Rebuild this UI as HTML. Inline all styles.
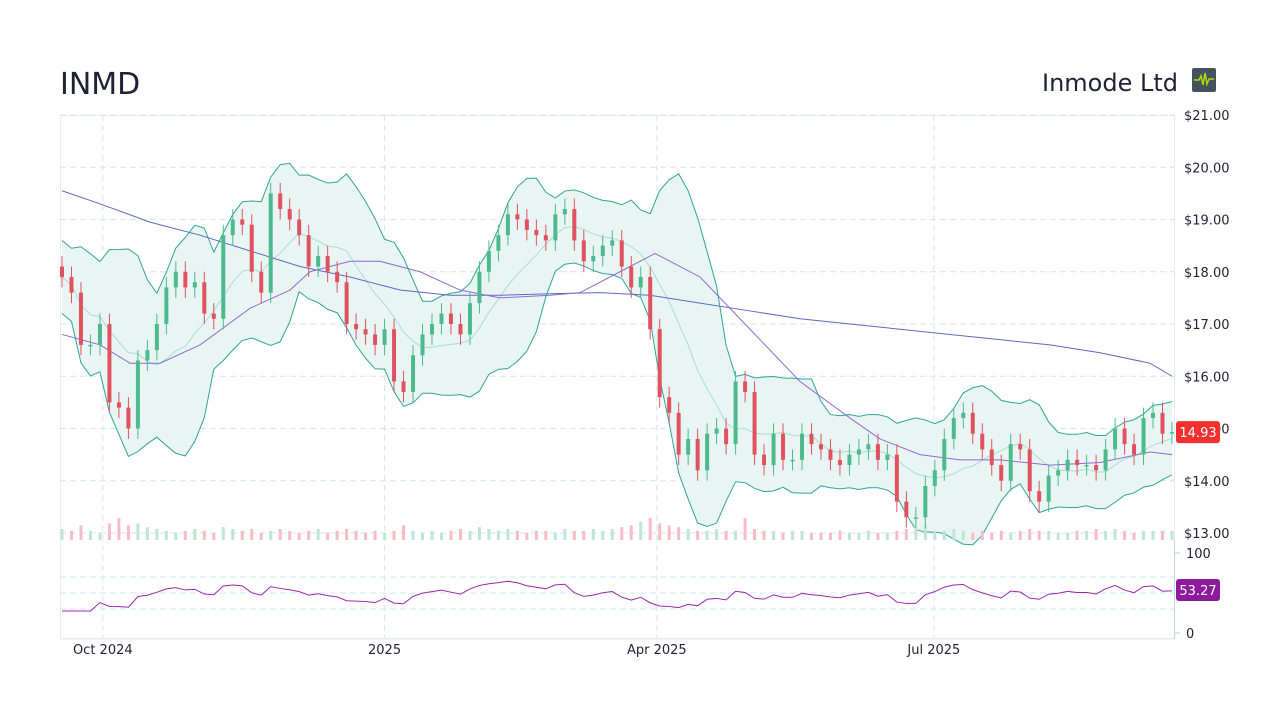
<!DOCTYPE html>
<html><head><meta charset="utf-8"><style>
body{margin:0;background:#fff;font-family:"Liberation Sans","DejaVu Sans",sans-serif;}
svg text{font-family:"DejaVu Sans","Liberation Sans",sans-serif;}
</style></head><body>
<svg id="c" width="1280" height="720" viewBox="0 0 1280 720">
<rect width="1280" height="720" fill="#fff"/>
<text x="60" y="94" font-size="30" fill="#1e2235">INMD</text>
<text x="1178" y="91" font-size="24" fill="#1e2235" text-anchor="end">Inmode Ltd</text>
<g>
<rect x="1192" y="68" width="24" height="24" rx="2" fill="#45535f"/>
<polyline points="1194,80 1199,80 1201,76 1203,85 1205,73 1207,84 1209,79 1214,79" fill="none" stroke="#a8e000" stroke-width="1.5"/>
</g>
<g id="grid"></g>
<g id="band"></g>
<g id="vol"></g>
<g id="lines"></g>
<g id="candles"></g>
<g id="rsi"></g>
<g id="axes"></g>
</svg>
<script>
const closes=[17.9,17.6,16.6,16.6,17.0,15.5,15.4,15.0,16.3,16.5,17.0,17.7,18.0,17.7,17.8,17.2,17.1,18.7,19.0,18.9,18.0,17.6,19.5,19.2,19.0,18.7,18.1,18.3,18.0,17.8,17.0,16.9,16.8,16.6,16.9,15.9,15.7,16.4,16.8,17.0,17.2,17.0,16.8,17.4,18.0,18.4,18.7,19.1,19.0,18.8,18.7,18.6,19.1,19.2,18.6,18.2,18.3,18.5,18.6,18.1,17.7,17.9,16.9,15.6,15.3,14.5,14.8,14.2,14.9,15.0,14.7,15.9,15.7,14.5,14.3,14.9,14.4,14.4,14.9,14.7,14.6,14.4,14.3,14.5,14.6,14.7,14.4,14.5,13.6,13.3,13.3,13.9,14.2,14.8,15.2,15.3,14.9,14.6,14.3,14.0,14.7,14.6,13.8,13.6,14.1,14.2,14.4,14.3,14.3,14.2,14.6,15.0,14.7,14.5,15.2,15.3,14.9,14.93];
const volumes=[6,5,8,5,4,9,12,8,9,7,6,5,4,5,6,5,4,7,6,5,6,4,5,6,5,4,5,6,4,5,6,5,4,5,4,5,8,5,4,5,4,5,6,5,7,6,5,6,5,4,5,5,4,6,5,5,6,5,6,7,8,10,12,9,8,7,6,5,5,6,5,5,12,6,5,5,4,5,5,4,4,4,5,4,4,5,4,4,5,6,7,8,5,5,6,5,4,5,4,5,4,5,6,5,5,4,4,5,5,6,5,6,5,4,5,5,5,5];
const longMaX=[0,38,88,138,188,238,288,338,388,438,488,538,588,638,688,738,788,838,888,938,988,1038,1088,1110];
const longMaV=[19.55,19.3,18.95,18.7,18.4,18.1,17.9,17.65,17.55,17.55,17.58,17.6,17.55,17.4,17.25,17.1,17.0,16.9,16.8,16.7,16.6,16.45,16.25,16.0];
const midMaX=[0,38,68,98,138,188,228,248,288,318,358,398,438,488,518,558,593,638,688,738,788,818,858,898,938,988,1038,1088,1110];
const midMaV=[16.8,16.6,16.25,16.25,16.6,17.3,17.65,18.0,18.2,18.2,18.0,17.65,17.5,17.55,17.6,18.0,18.35,17.9,16.9,15.9,15.2,14.8,14.5,14.4,14.4,14.3,14.35,14.55,14.5];
const priceTicks=[13,14,15,16,17,18,19,20,21];
const dateLabels=["Oct 2024","2025","Apr 2025","Jul 2025"];
const dateIdx=[4.3,34,62.7,91.9];

const NS="http://www.w3.org/2000/svg";
const L=62,R=1172,T=115,B=533;
const n=closes.length;
const xs=i=>L+i*(R-L)/(n-1);
const xo=d=>L+d;
const yp=v=>T+(21-v)*(B-T)/8;
const yr=v=>633-v*0.8;
function mk(tag,par,at){const e=document.createElementNS(NS,tag);for(const k in at)e.setAttribute(k,at[k]);document.getElementById(par).appendChild(e);return e;}

mk('rect','grid',{x:60.5,y:115.5,width:1114,height:523,fill:'none',stroke:'#e3ecf0'});
priceTicks.forEach(v=>{
 const g=mk('line','grid',{x1:60,x2:1175,y1:yp(v),y2:yp(v),stroke:'#d4e6ee','stroke-dasharray':'6,4'});
 
 
 const t=mk('text','axes',{x:1184,y:yp(v)+5,'font-size':13,fill:'#1e2235'});
 t.textContent='$'+v.toFixed(2);
 
 
});
[30,50,70].forEach(v=>{mk('line','grid',{x1:60,x2:1175,y1:yr(v),y2:yr(v),stroke:'#cde8f4','stroke-dasharray':'6,4'});});
mk('line','grid',{x1:60,x2:1175,y1:639,y2:639,stroke:'#e3ecf0'});
mk('line','grid',{x1:1174.5,x2:1174.5,y1:540,y2:638,stroke:'#b9dbe0'});
dateLabels.forEach((s,k)=>{
 const x=xs(dateIdx[k]);
 mk('line','grid',{x1:x,x2:x,y1:115,y2:638,stroke:'#d4e6ee','stroke-dasharray':'6,4'});
 const t=mk('text','axes',{x:x,y:654,'font-size':13,fill:'#1e2235','text-anchor':'middle'});
 t.textContent=s;
 
 
});
[[100,'100'],[0,'0']].forEach(([v,s])=>{
 mk('line','axes',{x1:1175,x2:1180,y1:yr(v),y2:yr(v),stroke:'#b9dbe0'});
 const t=mk('text','axes',{x:1186,y:yr(v)+5,'font-size':13,fill:'#1e2235'});
 t.textContent=s;
 
 
});

const P=9;const up=[],lo=[],mid=[];
for(let i=0;i<n;i++){const s=closes.slice(Math.max(0,i-P+1),i+1);const m=s.reduce((a,b)=>a+b,0)/s.length;const sd=Math.sqrt(s.reduce((a,b)=>a+(b-m)*(b-m),0)/s.length);const sd2=Math.max(sd,0.35);mid.push(m);up.push(m+2*sd2);lo.push(m-2*sd2);}
let d='M'+up.map((v,i)=>xs(i)+','+yp(v)).join(' L')+' L'+lo.map((v,i)=>xs(i)+','+yp(v)).reverse().join(' L')+'Z';
const bf=mk('path','band',{d:d,fill:'#e9f5f3'});


[[up,'#2fa597'],[lo,'#2fa597'],[mid,'#a8ddd4']].forEach(([a,c])=>{
 const p=mk('polyline','band',{points:a.map((v,i)=>xs(i)+','+yp(v)).join(' '),fill:'none',stroke:c,'stroke-width':1});
 
 
});

const vmax=Math.max(...volumes);
volumes.forEach((v,i)=>{
 const upc=i==0||closes[i]>=closes[i-1];const h=v/vmax*22;
 const r=mk('rect','vol',{x:xs(i)-1.5,y:540-h,width:3,height:h,fill:upc?'#bfe5d5':'#f7bcc4'});
 
 
});

const lm=mk('polyline','lines',{points:longMaX.map((x,k)=>xo(x)+','+yp(longMaV[k])).join(' '),fill:'none',stroke:'#5c6bc0','stroke-width':1});


const mm=mk('polyline','lines',{points:midMaX.map((x,k)=>xo(x)+','+yp(midMaV[k])).join(' '),fill:'none',stroke:'#8e6ccf','stroke-width':1});



closes.forEach((c,i)=>{
 const o=i==0?c+0.2:closes[i-1];const upc=c>=o;const col=upc?'#4dba8e':'#e0525f';
 const hi=Math.max(o,c)+0.2,lw=Math.min(o,c)-0.2;
 const w=mk('line','candles',{x1:xs(i),x2:xs(i),y1:yp(hi),y2:yp(lw),stroke:col,'stroke-width':1});
 
 
 const top=yp(Math.max(o,c)),h=Math.max(1.5,Math.abs(yp(o)-yp(c)));
 const b=mk('rect','candles',{x:xs(i)-2,y:top,width:4,height:h,fill:col});
 
 
});

const RP=6;const rsi=[];let ag=0,al=0;
for(let i=1;i<n;i++){const ch=closes[i]-closes[i-1];const g=Math.max(ch,0),l=Math.max(-ch,0);
 if(i<=RP){ag+=g/RP;al+=l/RP;}else{ag=(ag*(RP-1)+g)/RP;al=(al*(RP-1)+l)/RP;}
 rsi.push(al==0?70:100-100/(1+ag/al));}
rsi.unshift(rsi[0]);
const rl=mk('polyline','rsi',{points:rsi.map((v,i)=>xs(i)+','+yr(Math.min(80,Math.max(25,50+(v-50)*0.45)))).join(' '),fill:'none',stroke:'#9c27b0','stroke-width':1});


const pl=mk('rect','axes',{x:1176,y:yp(14.93)-11,width:44,height:22,rx:3,fill:'#f23030'});


const pt=mk('text','axes',{x:1198,y:yp(14.93)+5,'font-size':13,fill:'#fff','text-anchor':'middle'});
pt.textContent=closes[n-1].toFixed(2);
const rb=mk('rect','axes',{x:1176,y:579,width:44,height:22,rx:3,fill:'#8e1a9c'});


const rt=mk('text','axes',{x:1198,y:595,'font-size':13,fill:'#fff','text-anchor':'middle'});
rt.textContent='53.27';
</script>
</body></html>
